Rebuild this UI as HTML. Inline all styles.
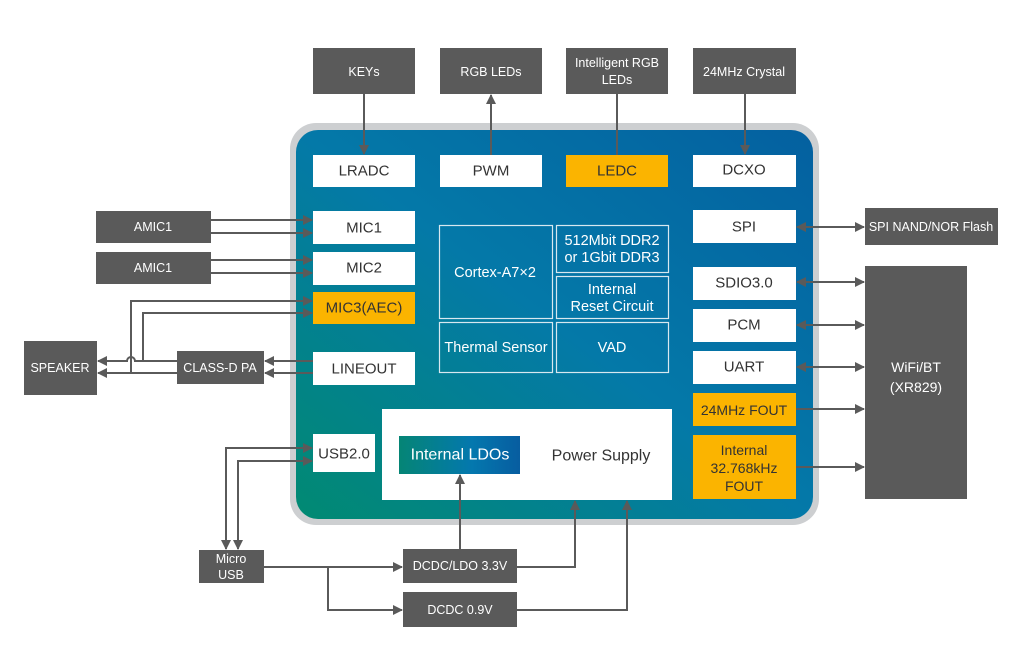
<!DOCTYPE html>
<html><head><meta charset="utf-8"><style>
html,body{margin:0;padding:0;background:#fff;width:1024px;height:660px;overflow:hidden}
svg text{font-family:"Liberation Sans",sans-serif;text-anchor:middle;dominant-baseline:central}
</style></head><body>
<svg width="1024" height="660" viewBox="0 0 1024 660" xmlns="http://www.w3.org/2000/svg">
<defs>
<linearGradient id="bg" x1="0" y1="1" x2="1" y2="0">
<stop offset="0" stop-color="#018a72"/><stop offset="0.5" stop-color="#0479a8"/><stop offset="1" stop-color="#0460a0"/></linearGradient>
<linearGradient id="ldo" x1="0" y1="0" x2="1" y2="0">
<stop offset="0" stop-color="#058575"/><stop offset="0.6" stop-color="#0478ae"/><stop offset="1" stop-color="#075da0"/></linearGradient>
<marker id="a" viewBox="0 0 10 10" refX="9" refY="5" markerWidth="10" markerHeight="10" markerUnits="userSpaceOnUse" orient="auto-start-reverse"><path d="M0,0L10,5L0,10z" fill="#5a5a5a"/></marker>
</defs>
<rect x="290" y="123" width="529" height="402" rx="26" fill="#cdcfd1"/>
<rect x="296" y="130" width="517" height="389" rx="22" fill="url(#bg)"/>
<g fill="#5a5a5a">
<rect x="313" y="48" width="102" height="46"/><rect x="440" y="48" width="102" height="46"/>
<rect x="566" y="48" width="102" height="46"/><rect x="693" y="48" width="103" height="46"/>
<rect x="96" y="211" width="115" height="32"/><rect x="96" y="252" width="115" height="32"/>
<rect x="24" y="341" width="73" height="54"/><rect x="177" y="351" width="87" height="33"/>
<rect x="199" y="550" width="65" height="33"/><rect x="403" y="549" width="114" height="34"/>
<rect x="403" y="592" width="114" height="35"/>
<rect x="865" y="208" width="133" height="37"/><rect x="865" y="266" width="102" height="233"/>
</g>
<g fill="#fff" font-size="12.5">
<text x="364" y="72">KEYs</text><text x="491" y="72">RGB LEDs</text>
<text x="617" y="63">Intelligent RGB</text><text x="617" y="80">LEDs</text>
<text x="744" y="72">24MHz Crystal</text>
<text x="153" y="227">AMIC1</text><text x="153" y="268">AMIC1</text>
<text x="60" y="368">SPEAKER</text><text x="220" y="368">CLASS-D PA</text>
<text x="231" y="559">Micro</text><text x="231" y="575">USB</text>
<text x="460" y="566">DCDC/LDO 3.3V</text><text x="460" y="610">DCDC 0.9V</text>
<text x="931" y="227">SPI NAND/NOR Flash</text>
<text x="916" y="367" font-size="14">WiFi/BT</text><text x="916" y="387" font-size="14">(XR829)</text>
</g>
<g fill="#fff">
<rect x="313" y="155" width="102" height="32"/><rect x="440" y="155" width="102" height="32"/>
<rect x="693" y="155" width="103" height="32"/>
<rect x="313" y="211" width="102" height="33"/><rect x="313" y="252" width="102" height="33"/>
<rect x="313" y="352" width="102" height="33"/><rect x="313" y="434" width="62" height="38"/>
<rect x="693" y="210" width="103" height="33"/><rect x="693" y="267" width="103" height="33"/>
<rect x="693" y="309" width="103" height="33"/><rect x="693" y="351" width="103" height="33"/>
<rect x="382" y="409" width="290" height="91"/>
</g>
<g fill="#fbb400">
<rect x="566" y="155" width="102" height="32"/><rect x="313" y="292" width="102" height="32"/>
<rect x="693" y="393" width="103" height="33"/><rect x="693" y="435" width="103" height="64"/>
</g>
<rect x="399" y="436" width="121" height="38" fill="url(#ldo)"/>
<g fill="none" stroke="#d8e8f0" stroke-width="1.2">
<rect x="439.5" y="225.5" width="113" height="93"/><rect x="556.5" y="225.5" width="112" height="47"/>
<rect x="556.5" y="276.5" width="112" height="42"/><rect x="439.5" y="322.5" width="113" height="50"/>
<rect x="556.5" y="322.5" width="112" height="50"/>
</g>
<g fill="#333" font-size="15">
<text x="364" y="171">LRADC</text><text x="491" y="171">PWM</text><text x="617" y="171">LEDC</text><text x="744" y="170">DCXO</text>
<text x="364" y="228">MIC1</text><text x="364" y="268">MIC2</text><text x="364" y="308">MIC3(AEC)</text>
<text x="364" y="369">LINEOUT</text><text x="344" y="454">USB2.0</text>
<text x="744" y="227">SPI</text><text x="744" y="283">SDIO3.0</text><text x="744" y="325">PCM</text>
<text x="744" y="367">UART</text><text x="744" y="410" font-size="14">24MHz FOUT</text>
<text x="744" y="450" font-size="14">Internal</text><text x="744" y="468" font-size="14">32.768kHz</text><text x="744" y="486" font-size="14">FOUT</text>
<text x="601" y="456" font-size="16">Power Supply</text>
</g>
<g fill="#fff" font-size="14.5">
<text x="495" y="273">Cortex-A7×2</text>
<text x="612" y="241">512Mbit DDR2</text><text x="612" y="258">or 1Gbit DDR3</text>
<text x="612" y="290">Internal</text><text x="612" y="307">Reset Circuit</text>
<text x="496" y="348">Thermal Sensor</text><text x="612" y="348">VAD</text>
<text x="460" y="455" font-size="16">Internal LDOs</text>
</g>
<g stroke="#5a5a5a" stroke-width="2" fill="none">
<path d="M364 94V154" marker-end="url(#a)"/>
<path d="M491 155V95" marker-end="url(#a)"/>
<path d="M617 155V94"/>
<path d="M745 94V154" marker-end="url(#a)"/>
<path d="M211 220H312" marker-end="url(#a)"/><path d="M211 233H312" marker-end="url(#a)"/>
<path d="M211 260H312" marker-end="url(#a)"/><path d="M211 273H312" marker-end="url(#a)"/>
<path d="M131 373V301H312" marker-end="url(#a)"/>
<path d="M143 361V313H312" marker-end="url(#a)"/>
<path d="M177 361H135a4 4 0 0 0-8 0H98" marker-end="url(#a)"/>
<path d="M177 373H98" marker-end="url(#a)"/>
<path d="M313 361H265" marker-end="url(#a)"/><path d="M313 373H265" marker-end="url(#a)"/>
<path d="M226 549V448H312" marker-start="url(#a)" marker-end="url(#a)"/>
<path d="M238 549V461H312" marker-start="url(#a)" marker-end="url(#a)"/>
<path d="M264 567H402" marker-end="url(#a)"/>
<path d="M328 567V610H402" marker-end="url(#a)"/>
<path d="M460 549V475" marker-end="url(#a)"/>
<path d="M517 567H575V501" marker-end="url(#a)"/>
<path d="M517 610H627V501" marker-end="url(#a)"/>
<path d="M797 227H864" marker-start="url(#a)" marker-end="url(#a)"/>
<path d="M797 282H864" marker-start="url(#a)" marker-end="url(#a)"/>
<path d="M797 325H864" marker-start="url(#a)" marker-end="url(#a)"/>
<path d="M797 367H864" marker-start="url(#a)" marker-end="url(#a)"/>
<path d="M796 409H864" marker-end="url(#a)"/>
<path d="M796 467H864" marker-end="url(#a)"/>
</g>
</svg>
</body></html>
